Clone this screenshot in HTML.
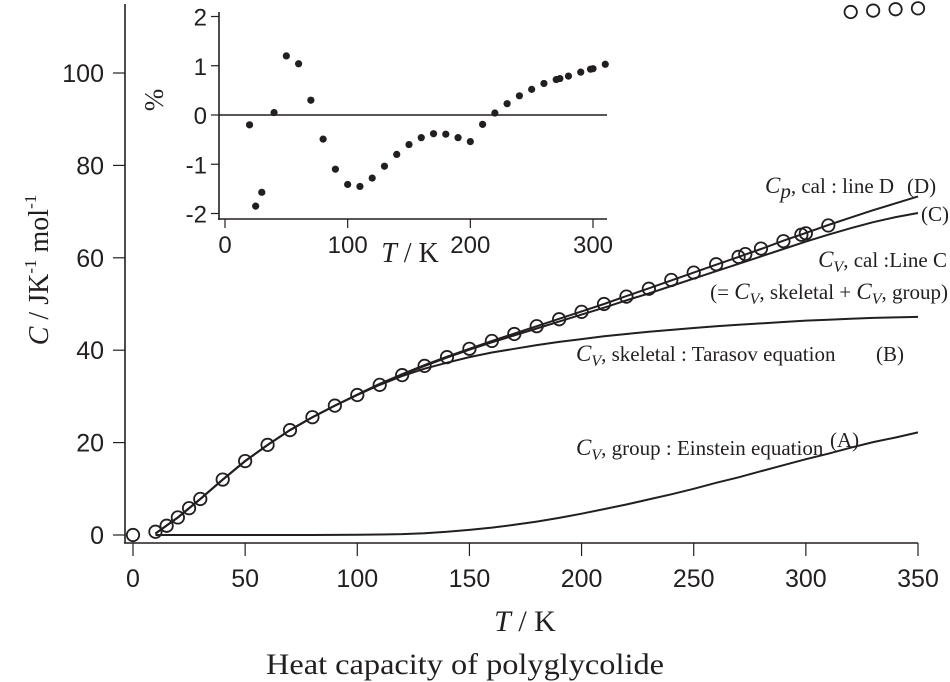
<!DOCTYPE html>
<html><head><meta charset="utf-8"><style>
html,body{margin:0;padding:0;background:#fff;}
svg{display:block;}
.tk{font-family:"Liberation Sans",sans-serif;font-size:25px;fill:#231f20;}
.tki{font-family:"Liberation Sans",sans-serif;font-size:24px;fill:#231f20;}
.sr{font-family:"Liberation Serif",serif;fill:#231f20;}
</style></head><body>
<svg id="chart" width="950" height="682" viewBox="0 0 950 682" xmlns="http://www.w3.org/2000/svg">
<g id="main"></g>
<g id="inset"></g>
<text class="sr" x="465" y="674" font-size="30" text-anchor="middle" textLength="398" lengthAdjust="spacingAndGlyphs">Heat capacity of polyglycolide</text>
<text class="sr" x="525" y="631" font-size="30" text-anchor="middle"><tspan font-style="italic">T</tspan> / K</text>
<text class="sr" transform="translate(48,270) rotate(-90)" font-size="28" text-anchor="middle"><tspan font-style="italic">C</tspan> / JK<tspan dy="-12" font-size="17">-1</tspan><tspan dy="12"> mol</tspan><tspan dy="-12" font-size="17">-1</tspan></text>
<text class="sr" x="410" y="262" font-size="28" text-anchor="middle"><tspan font-style="italic">T</tspan> / K</text>
<text class="sr" transform="translate(163,100) rotate(-90)" font-size="27" text-anchor="middle">%</text>
<g class="sr" font-size="21">
<text x="765" y="193"><tspan font-style="italic" font-size="23">C</tspan><tspan font-style="italic" dy="5">p</tspan><tspan dy="-5">, cal : line D</tspan></text>
<text x="907" y="193" font-size="21">(D)</text>
<text x="921" y="221" font-size="21">(C)</text>
<text x="947" y="267" text-anchor="end"><tspan font-style="italic" font-size="23">C</tspan><tspan font-style="italic" dy="5" font-size="16">V</tspan><tspan dy="-5">, cal :Line C</tspan></text>
<text x="948" y="299" text-anchor="end">(= <tspan font-style="italic" font-size="23">C</tspan><tspan font-style="italic" dy="5" font-size="16">V</tspan><tspan dy="-5">, skeletal + </tspan><tspan font-style="italic" font-size="23">C</tspan><tspan font-style="italic" dy="5" font-size="16">V</tspan><tspan dy="-5">, group)</tspan></text>
<text x="576" y="361"><tspan font-style="italic" font-size="23">C</tspan><tspan font-style="italic" dy="5" font-size="16">V</tspan><tspan dy="-5">, skeletal : Tarasov equation</tspan></text>
<text x="876" y="361" font-size="21">(B)</text>
<text x="576" y="455"><tspan font-style="italic" font-size="23">C</tspan><tspan font-style="italic" dy="5" font-size="16">V</tspan><tspan dy="-5">, group : Einstein equation</tspan></text>
<text x="830" y="447" font-size="21">(A)</text>
</g>
</svg>
<script>
const NS="http://www.w3.org/2000/svg";
// main chart data
const xTicks=[0,50,100,150,200,250,300,350];
const yTicks=[0,20,40,60,80,100];
const measT=[0,10,15,20,25,30,40,50,60,70,80,90,100,110,120,130,140,150,160,170,180,190,200,210,220,230,240,250,260,270,273,280,290,298,300,310,320,330,340,350];
const measC=[0,0.7,2,3.8,5.8,7.8,12,16,19.5,22.7,25.5,28,30.3,32.5,34.6,36.6,38.5,40.3,42,43.5,45.2,46.7,48.3,50,51.6,53.3,55.2,56.8,58.6,60.2,60.8,62,63.6,65,65.3,67,113.2,113.5,113.8,114];
const lineT=[10,20,30,40,50,60,70,80,90,100,110,120,130,140,150,160,170,180,190,200,210,220,230,240,250,260,270,280,290,300,310,320,330,340,350];
const lineD=[0.3,3.8,7.8,12,16,19.5,22.7,25.5,28,30.4,32.7,34.8,36.8,38.6,40.3,42,43.6,45.2,46.8,48.4,50,51.7,53.4,55.1,56.8,58.5,60.2,61.9,63.7,65.4,67.1,68.7,70.3,71.8,73.3];
const lineC=[0.3,3.8,7.8,12,16,19.5,22.7,25.5,28,30.4,32.7,34.7,36.6,38.4,40.1,41.7,43.2,44.7,46.2,47.7,49.2,50.8,52.3,53.9,55.5,57.1,58.7,60.3,61.9,63.5,65,66.4,67.7,68.8,69.7];
const lineB=[0.3,3.8,7.8,12,16,19.5,22.7,25.5,28,30.3,32.5,34.4,36,37.3,38.5,39.5,40.3,41.1,41.8,42.4,43,43.5,44,44.4,44.8,45.2,45.5,45.8,46.1,46.4,46.6,46.8,47,47.1,47.2];
const lineA=[0,0,0,0,0,0,0,0,0.02,0.05,0.1,0.2,0.4,0.7,1.1,1.6,2.2,2.9,3.7,4.6,5.6,6.6,7.7,8.8,10,11.3,12.5,13.8,15.1,16.4,17.6,18.9,20.1,21.1,22.2];
// inset data
const insXTicks=[0,100,200,300];
const insYTicks=[2,1,0,-1,-2];
const devT=[20,25,30,40,50,60,70,80,90,100,110,120,130,140,150,160,170,180,190,200,210,220,230,240,250,260,270,273,280,290,298,300,310];
const devP=[-0.2,-1.85,-1.57,0.05,1.2,1.04,0.3,-0.49,-1.1,-1.41,-1.45,-1.28,-1.04,-0.8,-0.6,-0.46,-0.38,-0.39,-0.46,-0.54,-0.19,0.04,0.23,0.39,0.52,0.64,0.72,0.74,0.79,0.87,0.93,0.94,1.03];

const X=t=>133+t*(785/350);
const Y=c=>535-c*4.62;
const IX=t=>225+t*(368/300);
const IY=p=>115-p*49.25;
function mk(tag,attrs,parent){const e=document.createElementNS(NS,tag);for(const k in attrs)e.setAttribute(k,attrs[k]);parent.appendChild(e);return e;}
const main=document.getElementById('main');
const inset=document.getElementById('inset');
const ST="#231f20";
let ax=mk('line',{x1:125,y1:4,x2:125,y2:543,stroke:ST,'stroke-width':1.6},main);


ax=mk('line',{x1:124,y1:543,x2:918,y2:543,stroke:ST,'stroke-width':1.6},main);


xTicks.forEach(t=>{
 const l=mk('line',{x1:X(t),y1:543,x2:X(t),y2:556,stroke:ST,'stroke-width':1.2},main);
 
 
 const tx=mk('text',{x:X(t),y:587,'text-anchor':'middle',class:'tk'},main);tx.textContent=t;
 
 
});
yTicks.forEach(c=>{
 const l=mk('line',{x1:113,y1:Y(c),x2:125,y2:Y(c),stroke:ST,'stroke-width':1.2},main);
 
 
 const tx=mk('text',{x:104,y:Y(c)+9,'text-anchor':'end',class:'tk'},main);tx.textContent=c;
 
 
});
function line(vals,name){
 const d=lineT.map((t,i)=>(i?'L':'M')+X(t).toFixed(1)+','+Y(vals[i]).toFixed(1)).join(' ');
 const p=mk('path',{d:d,fill:'none',stroke:ST,'stroke-width':2},main);
 
 
}
line(lineA,'line-a-einstein');
line(lineB,'line-b-tarasov');
line(lineC,'line-c-cv-cal');
line(lineD,'line-d-cp-cal');
measT.forEach((t,i)=>{
 const c=mk('circle',{cx:X(t),cy:Y(measC[i]),r:6.2,fill:'none',stroke:ST,'stroke-width':1.8},main);
 
 
});
ax=mk('line',{x1:219,y1:12,x2:219,y2:220,stroke:ST,'stroke-width':1.6},inset);


ax=mk('line',{x1:218,y1:219,x2:607,y2:219,stroke:ST,'stroke-width':1.6},inset);


ax=mk('line',{x1:219,y1:IY(0),x2:607,y2:IY(0),stroke:ST,'stroke-width':1.4},inset);


insXTicks.forEach(t=>{
 const l=mk('line',{x1:IX(t),y1:219,x2:IX(t),y2:228,stroke:ST,'stroke-width':1.2},inset);
 
 
 const tx=mk('text',{x:IX(t),y:253,'text-anchor':'middle',class:'tki'},inset);tx.textContent=t;
 
 
});
insYTicks.forEach(p=>{
 const l=mk('line',{x1:211,y1:IY(p),x2:219,y2:IY(p),stroke:ST,'stroke-width':1.2},inset);
 
 
 const tx=mk('text',{x:207,y:IY(p)+9,'text-anchor':'end',class:'tki'},inset);tx.textContent=p;
 
 
});
devT.forEach((t,i)=>{
 const c=mk('circle',{cx:IX(t),cy:IY(devP[i]),r:3.6,fill:ST},inset);
 
 
});
</script>
</body></html>
